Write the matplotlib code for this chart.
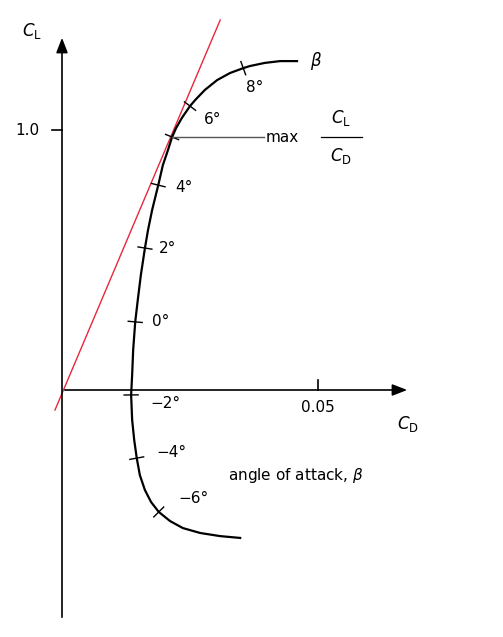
import numpy as np
import matplotlib
matplotlib.use("Agg")
import matplotlib.pyplot as plt

# drag polar (CD, CL)
cd = [0.0459, 0.0426, 0.0396, 0.0367, 0.0354, 0.0328, 0.0303, 0.0279, 0.0260, 0.0250,
      0.0234, 0.0223, 0.0215, 0.0207, 0.0197, 0.0188, 0.0176, 0.0168, 0.0162, 0.0154,
      0.0148, 0.0143, 0.0139, 0.0137, 0.0135, 0.0137, 0.0141, 0.0146, 0.0152, 0.0162,
      0.0174, 0.0189, 0.0211, 0.0236, 0.0270, 0.0309, 0.0348]
cl = [1.265, 1.265, 1.258, 1.246, 1.238, 1.219, 1.192, 1.154, 1.115, 1.092,
      1.046, 1.008, 0.973, 0.923, 0.865, 0.788, 0.692, 0.615, 0.546, 0.442,
      0.346, 0.262, 0.154, 0.058, -0.019, -0.115, -0.192, -0.262, -0.327, -0.385,
      -0.431, -0.469, -0.504, -0.531, -0.550, -0.562, -0.569]
# angle ticks along the curve
ang_lbl = ["8°", "6°", "4°", "2°", "0°", "\u22122°", "\u22124°", "\u22126°"]
ang_cd = [0.0354, 0.0250, 0.0188, 0.0162, 0.0143, 0.0135, 0.0146, 0.0189]
ang_cl = [1.238, 1.092, 0.788, 0.546, 0.262, -0.019, -0.262, -0.469]
ang_off = [(2, -14), (10, -10), (12, -2), (10, 0), (12, 0), (14, -6), (14, 4), (14, 10)]
tan_cd, tan_cl = 0.0215, 0.973
red_cd = [-0.00137, 0.0309]
red_cl = [-0.077, 1.423]

fig = plt.figure(figsize=(5.03, 6.37), dpi=100)
ax = fig.add_axes([0, 0, 1, 1])
ax.set_xlim(-62 / 256 * 0.05, (503 - 62) / 256 * 0.05)
ax.set_ylim((390 - 637) / 260, 390 / 260)
ax.axis("off")

k = dict(color="black", lw=1.2)
ax.annotate("", xy=(0, 355 / 260), xytext=(0, (390 - 620) / 260),
            arrowprops=dict(arrowstyle="-|>,head_length=0.9,head_width=0.35", color="black", lw=1.2))
ax.annotate("", xy=(348 / 256 * 0.05, 0), xytext=(0, 0),
            arrowprops=dict(arrowstyle="-|>,head_length=0.9,head_width=0.35", color="black", lw=1.2))
ax.plot([-0.002, 0], [1.0, 1.0], **k)
ax.plot([0.05, 0.05], [0, 0.038], **k)
ax.text(-0.0045, 1.0, "1.0", ha="right", va="center", fontsize=11)
ax.text(0.05, -0.04, "0.05", ha="center", va="top", fontsize=11)
ax.text(-0.004, 1.38, "$C_\\mathrm{L}$", ha="right", va="center", fontsize=12)
ax.text(0.0675, -0.13, "$C_\\mathrm{D}$", ha="center", va="center", fontsize=12)

ax.plot(red_cd, red_cl, color="#e8283c", lw=1)
ax.plot(cd, cl, color="black", lw=1.6)

# perpendicular ticks in pixel space
tr = ax.transData
for lab, x, y, (ox, oy) in zip(ang_lbl + [""], ang_cd + [tan_cd], ang_cl + [tan_cl], ang_off + [(0, 0)]):
    px, py = tr.transform((x, y))
    i = int(np.argmin(np.hypot(np.array(cd) - x, (np.array(cl) - y) / 20)))
    a = tr.transform((cd[max(i - 2, 0)], cl[max(i - 2, 0)]))
    b = tr.transform((cd[min(i + 2, len(cd) - 1)], cl[min(i + 2, len(cd) - 1)]))
    d = b - a
    n = np.array([-d[1], d[0]]) / np.hypot(*d) * 7
    p1 = tr.inverted().transform((px - n[0], py - n[1]))
    p2 = tr.inverted().transform((px + n[0], py + n[1]))
    ax.plot([p1[0], p2[0]], [p1[1], p2[1]], color="black", lw=1)
    if lab:
        ax.annotate(lab, (x, y), xytext=(ox, oy), textcoords="offset points",
                    ha="left", va="center", fontsize=11)

ax.plot([tan_cd, 0.0395], [tan_cl, tan_cl], color="#555", lw=1)
ax.text(0.0398, tan_cl, "max", ha="left", va="center", fontsize=11)
ax.plot([0.0505, 0.0585], [tan_cl, tan_cl], color="black", lw=0.9)
ax.text(0.0545, tan_cl + 0.035, "$C_\\mathrm{L}$", ha="center", va="bottom", fontsize=12)
ax.text(0.0545, tan_cl - 0.035, "$C_\\mathrm{D}$", ha="center", va="top", fontsize=12)
ax.text(0.0485, 1.265, "$\\beta$", ha="left", va="center", fontsize=12)
ax.text(0.0325, -0.327, "angle of attack, $\\beta$", ha="left", va="center", fontsize=11)

fig.savefig("out.png", dpi=100, facecolor="white")
